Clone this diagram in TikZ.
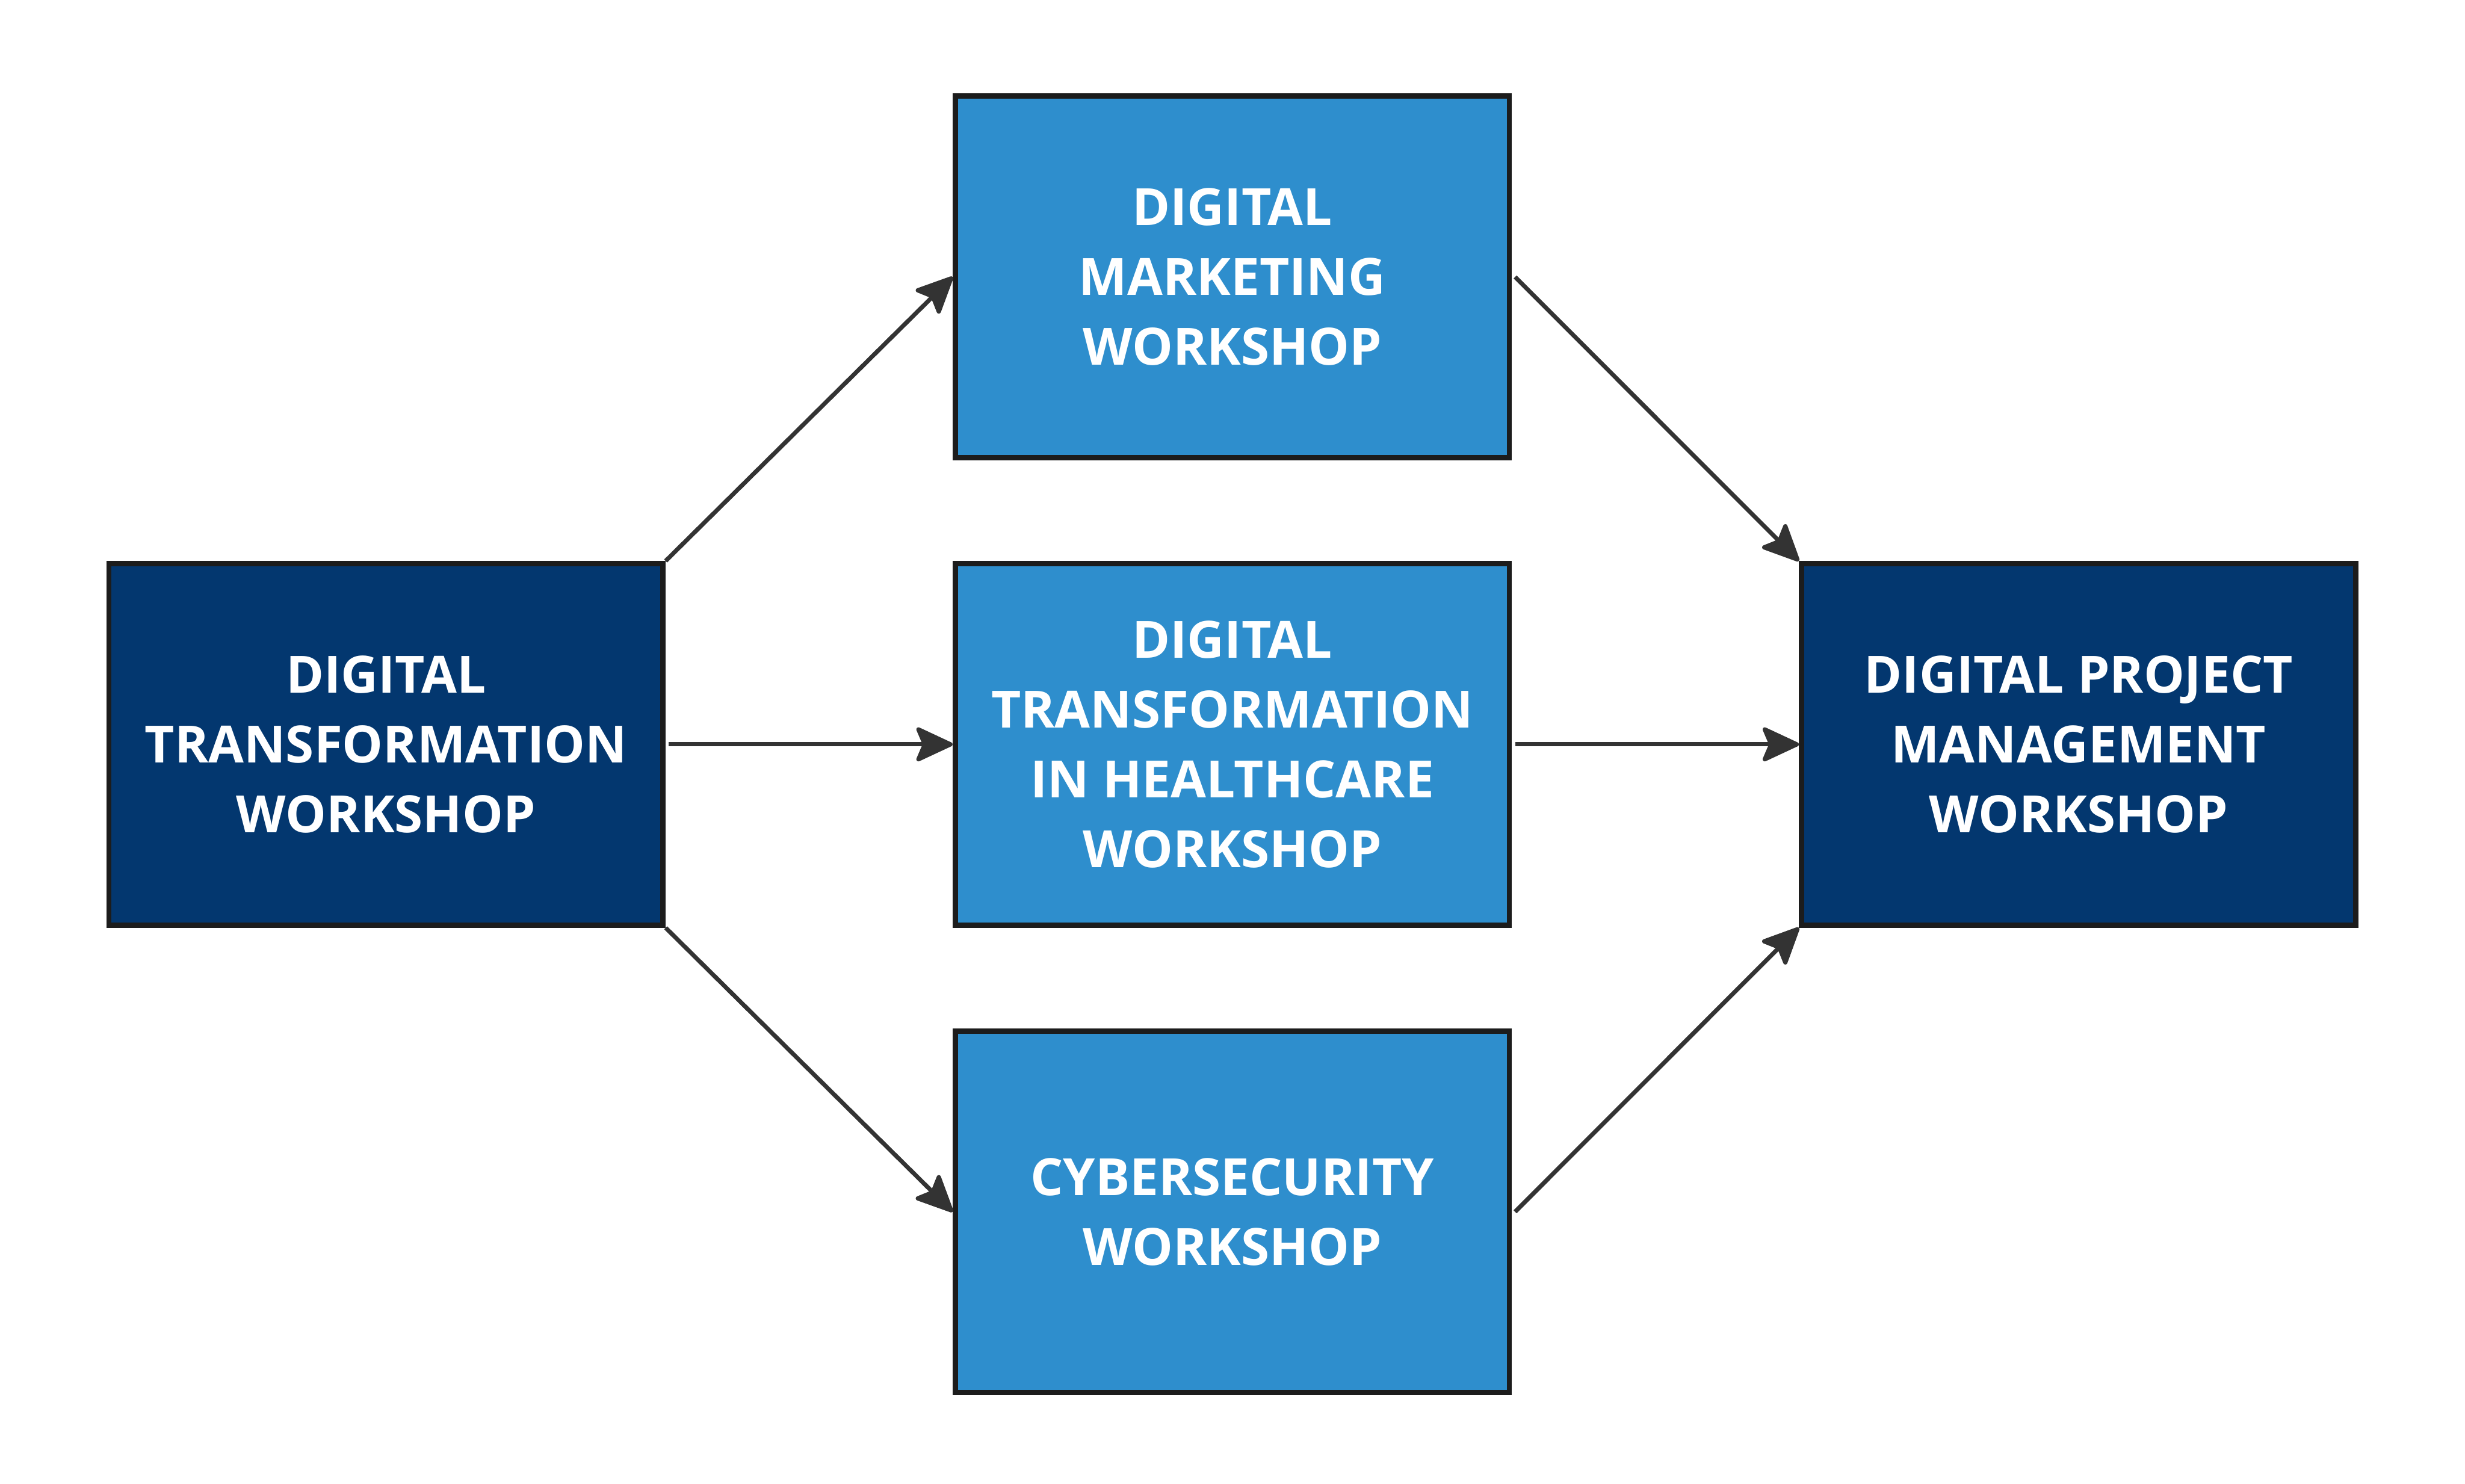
\documentclass[tikz,border=0pt]{standalone}
\usepackage{fontspec}
\setmainfont{Open Sans}
\usepackage{xcolor}
\usepackage{tikz}
\usetikzlibrary{arrows.meta, positioning}

\definecolor{navybox}{HTML}{03376F}
\definecolor{skybox}{HTML}{2E8ECD}
\definecolor{edgegray}{HTML}{1C1C1C}
\definecolor{arrgray}{HTML}{333333}

\begin{document}
\begin{tikzpicture}[
  wbox/.style={rectangle, draw=edgegray, line width=1.9pt, text=white, align=center,
              minimum width=7.05cm, minimum height=4.6cm, inner sep=2pt,
              font=\fontsize{18.6}{25.3}\selectfont\bfseries},
  dbox/.style={wbox, fill=navybox},
  lbox/.style={wbox, fill=skybox},
  arr/.style={-{Stealth[length=5.2mm, width=4.8mm, inset=1mm, round]}, line width=1.55pt, draw=arrgray},
  node distance=1.28cm and 3.65cm
]
\useasboundingbox (0,0) rectangle (31.36,-18.88);
\node[dbox] (start) at (4.91,-9.47) {DIGITAL\\TRANSFORMATION\\WORKSHOP};
\node[lbox, right=of start] (health) {DIGITAL\\TRANSFORMATION\\IN HEALTHCARE\\WORKSHOP};
\node[lbox, above=of health] (market) {DIGITAL\\MARKETING\\WORKSHOP};
\node[lbox, below=of health] (cyber) {CYBERSECURITY\\WORKSHOP};
\node[dbox, right=of health] (project) {DIGITAL PROJECT\\MANAGEMENT\\WORKSHOP};
\draw[arr] (start.north east) -- (market.west);
\draw[arr] ([xshift=0.4mm]start.east) -- (health.west);
\draw[arr] (start.south east) -- (cyber.west);
\draw[arr] ([xshift=0.4mm]market.east) -- (project.north west);
\draw[arr] ([xshift=0.4mm]health.east) -- (project.west);
\draw[arr] ([xshift=0.4mm]cyber.east) -- (project.south west);
\end{tikzpicture}
\end{document}
